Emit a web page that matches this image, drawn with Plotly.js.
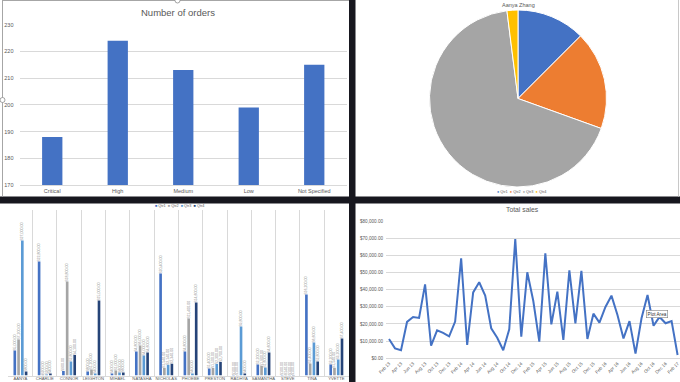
<!DOCTYPE html>
<html>
<head>
<meta charset="utf-8">
<script src="https://cdn.plot.ly/plotly-3.0.1.min.js"></script>
<style>html,body{margin:0;padding:0;background:#fff;}#chart{width:680px;height:382px;}</style>
</head>
<body>
<div id="chart"></div>
<script>
// ---------- data ----------
const priorities = ['Critical', 'High', 'Medium', 'Low', 'Not Specified'];
const orderCounts = [188, 224, 213, 199, 215];

const reps = ['AANYA', 'CHARLIE', 'CONNOR', 'LEIGHTON', 'MIHAEL', 'NATASHA', 'NICHOLAS',
              'PHOEBE', 'PRESTON', 'RADHYA', 'SAMANTHA', 'STEVE', 'TINA', 'YVETTE'];
const quarterNames = ['Qtr1', 'Qtr2', 'Qtr3', 'Qtr4'];
const qtr1 = [5000, 22800, 900, 800, 400, 4800, 20400, 4800, 1400, 100, 2200, 100, 16200, 2200];
const qtr2 = [7200, 200, 18800, 1200, 1000, 6000, 1540, 11400, 1500, 100, 1900, 140, 2400, 1540];
const qtr3 = [27000, 200, 2800, 400, 600, 4000, 2140, 400, 2300, 9800, 1600, 100, 6600, 3200];
const qtr4 = [800, 400, 4100, 15000, 600, 4600, 2340, 14600, 2700, 400, 4600, 100, 2800, 7400];

const pieTitle = 'Aanya Zhang';
const pieValues = [qtr1[0], qtr2[0], qtr3[0], qtr4[0]];

const months = ['Feb 13','Mar 13','Apr 13','May 13','Jun 13','Jul 13','Aug 13','Sep 13','Oct 13','Nov 13','Dec 13','Jan 14',
                'Feb 14','Mar 14','Apr 14','May 14','Jun 14','Jul 14','Aug 14','Sep 14','Oct 14','Nov 14','Dec 14','Jan 15',
                'Feb 15','Mar 15','Apr 15','May 15','Jun 15','Jul 15','Aug 15','Sep 15','Oct 15','Nov 15','Dec 15','Jan 16',
                'Feb 16','Mar 16','Apr 16','May 16','Jun 16','Jul 16','Aug 16','Sep 16','Oct 16','Nov 16','Dec 16','Jan 17','Feb 17'];
const totalSales = [11200, 5800, 4700, 21200, 24100, 23500, 43100, 7400, 16300, 14800, 12800, 21400,
                    58300, 7800, 38400, 44300, 36500, 17500, 12000, 4700, 16900, 69500, 12600, 50100,
                    33400, 9700, 61200, 19800, 38800, 10700, 51300, 20400, 50900, 11300, 26000, 20800,
                    29900, 36500, 25200, 11600, 21700, 2700, 23300, 36900, 19000, 24100, 20400, 21700, 1900];
const monthTicks = months.filter((m, i) => i % 2 === 0);

// ---------- helpers ----------
const W = 680, H = 382;
const px = x => x / W;
const py = y => 1 - y / H;
const FONT = 'Liberation Sans, Arial, sans-serif';
const GRAY = '#595959';
const GRID = '#d9d9d9';

const qColors = ['#4472C4', '#A5A5A5', '#5B9BD5', '#264478'];
const pieColors = ['#4472C4', '#ED7D31', '#A5A5A5', '#FFC000'];

// ---------- traces ----------
const traces = [];

traces.push({
  type: 'bar', x: priorities, y: orderCounts, xaxis: 'x', yaxis: 'y',
  marker: {color: '#4472C4'}, width: 0.31, showlegend: false, hoverinfo: 'x+y'
});

[qtr1, qtr2, qtr3, qtr4].forEach((vals, k) => {
  traces.push({
    type: 'bar', name: quarterNames[k], x: reps, y: vals, xaxis: 'x2', yaxis: 'y2',
    marker: {color: qColors[k]}, showlegend: false,
    texttemplate: '%{y:$,.2f}', textposition: 'outside', textangle: -90,
    constraintext: 'none', cliponaxis: false,
    textfont: {size: 3.6, color: '#8c8c8c', family: FONT}
  });
});

traces.push({
  type: 'pie', labels: quarterNames, values: pieValues, sort: false, direction: 'clockwise',
  rotation: 0, textinfo: 'none', showlegend: false,
  marker: {colors: pieColors, line: {color: '#ffffff', width: 1}},
  domain: {x: [px(428), px(608)], y: [py(187), py(10)]}
});

traces.push({
  type: 'scatter', mode: 'lines', x: months, y: totalSales, xaxis: 'x3', yaxis: 'y3',
  line: {color: '#4472C4', width: 2}, showlegend: false
});

// ---------- layout ----------
const dark = '#17171f';
const layout = {
  width: W, height: H, margin: {l: 0, r: 0, t: 0, b: 0},
  paper_bgcolor: '#ffffff', plot_bgcolor: 'rgba(0,0,0,0)',
  font: {family: FONT, color: GRAY, size: 6},
  barmode: 'group', bargap: 0.38, bargroupgap: 0.3,
  xaxis: {
    domain: [px(19.5), px(347)], anchor: 'y', type: 'category',
    tickfont: {size: 5.5, color: GRAY}, ticks: '', showline: true, linecolor: GRID, linewidth: 1,
    showgrid: false, fixedrange: true
  },
  yaxis: {
    domain: [py(185), py(24.7)], anchor: 'x', range: [170, 230], dtick: 10,
    gridcolor: GRID, gridwidth: 1, zeroline: false, tickfont: {size: 5.5, color: GRAY},
    ticks: '', ticklabelstandoff: 5
  },
  xaxis2: {
    domain: [px(8.3), px(348.5)], anchor: 'y2', type: 'category', tickson: 'boundaries',
    showgrid: true, gridcolor: GRID, gridwidth: 1, ticks: '', showline: true, linecolor: GRID,
    tickfont: {size: 4.2, color: GRAY}, tickangle: 0, ticklabelstandoff: -2
  },
  yaxis2: {
    domain: [py(375.5), py(210)], anchor: 'x2', range: [0, 33100],
    showgrid: false, zeroline: false, showticklabels: false, ticks: ''
  },
  xaxis3: {
    domain: [px(386), 1], anchor: 'y3', type: 'category', range: [-0.5, 48.4],
    tickvals: monthTicks, ticktext: monthTicks, tickangle: -45, ticks: '',
    tickfont: {size: 4.5, color: GRAY}, showgrid: false, showline: true, linecolor: GRID
  },
  yaxis3: {
    domain: [py(358.3), py(221)], anchor: 'x3', range: [0, 80000], dtick: 10000,
    tickformat: '$,.2f', gridcolor: GRID, zeroline: false, ticks: '',
    tickfont: {size: 4.6, color: GRAY}, ticklabelstandoff: 2
  },
  annotations: [
    {text: 'Number of orders', xref: 'paper', yref: 'paper', x: px(178), y: py(12),
     showarrow: false, font: {size: 9.5, color: GRAY}, xanchor: 'center', yanchor: 'middle'},
    {text: pieTitle, xref: 'paper', yref: 'paper', x: px(518.5), y: py(4.5),
     showarrow: false, font: {size: 5.5, color: GRAY}, xanchor: 'center', yanchor: 'middle'},
    {text: quarterNames.map((q, i) => '<span style="color:' + pieColors[i] + '">●</span> ' + q).join('  '),
     xref: 'paper', yref: 'paper', x: px(521), y: py(192.3), showarrow: false,
     font: {size: 3.8, color: GRAY}, xanchor: 'center', yanchor: 'middle'},
    {text: quarterNames.map((q, i) => '<span style="color:' + qColors[i] + '">■</span> ' + q).join('  '),
     xref: 'paper', yref: 'paper', x: px(179), y: py(205.5), showarrow: false,
     font: {size: 3.8, color: GRAY}, xanchor: 'center', yanchor: 'middle'},
    {text: 'Total sales', xref: 'paper', yref: 'paper', x: px(522.7), y: py(209),
     showarrow: false, font: {size: 6.8, color: GRAY}, xanchor: 'center', yanchor: 'middle'},
    {text: 'Plot Area', xref: 'paper', yref: 'paper', x: px(657), y: py(313.5),
     showarrow: false, font: {size: 4.6, color: '#333333'}, bgcolor: '#ffffff',
     bordercolor: '#7f7f7f', borderwidth: 0.6, borderpad: 1, xanchor: 'center', yanchor: 'middle'}
  ],
  shapes: [
    // dark separators between the four panels
    {type: 'rect', xref: 'paper', yref: 'paper', x0: 0, x1: 1, y0: py(203.5), y1: py(196.5),
     fillcolor: dark, line: {width: 0}, layer: 'above'},
    {type: 'rect', xref: 'paper', yref: 'paper', x0: px(349), x1: px(355.5), y0: 0, y1: 1,
     fillcolor: dark, line: {width: 0}, layer: 'above'},
    // selection frame of the top-left chart
    {type: 'line', xref: 'paper', yref: 'paper', x0: px(2.5), x1: px(2.5), y0: py(196.5), y1: 1,
     line: {color: '#a6a6a6', width: 1}},
    {type: 'line', xref: 'paper', yref: 'paper', x0: px(2.5), x1: px(349), y0: py(0.5), y1: py(0.5),
     line: {color: '#a6a6a6', width: 1}},
    {type: 'circle', xref: 'paper', yref: 'paper', x0: px(0), x1: px(5), y0: py(102.5), y1: py(97.5),
     fillcolor: '#ffffff', line: {color: '#8c8c8c', width: 0.8}},
    {type: 'circle', xref: 'paper', yref: 'paper', x0: px(175), x1: px(180), y0: py(3), y1: py(-2),
     fillcolor: '#ffffff', line: {color: '#8c8c8c', width: 0.8}},
    // right edge line of the pie panel
    {type: 'line', xref: 'paper', yref: 'paper', x0: px(678.5), x1: px(678.5), y0: py(196.5), y1: 1,
     line: {color: '#c8c8c8', width: 1}}
  ]
};

Plotly.newPlot('chart', traces, layout, {staticPlot: true, displayModeBar: false});
</script>
</body>
</html>
